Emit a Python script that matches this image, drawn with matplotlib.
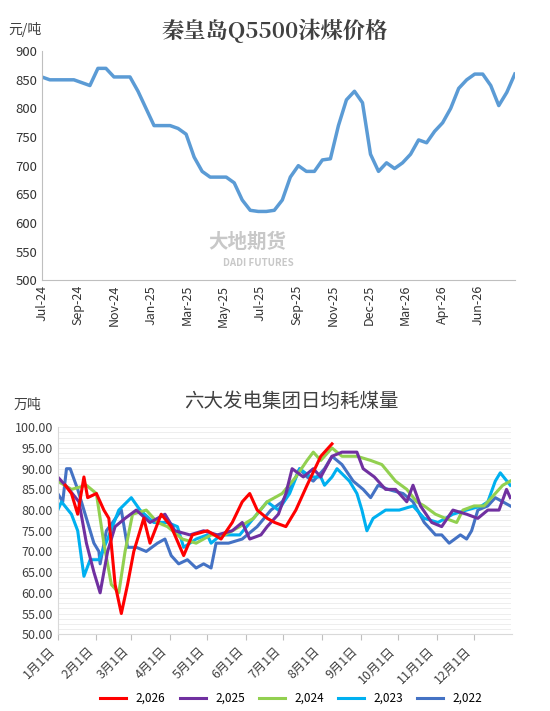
import matplotlib
matplotlib.use("Agg")
import matplotlib.pyplot as plt
import numpy as np

plt.rcParams['font.family'] = ['Noto Sans CJK SC', 'DejaVu Sans']

# ---- top chart data ----
price = [855,850,850,850,850,845,840,870,870,855,855,855,830,800,770,770,770,765,755,715,
         690,680,680,680,670,640,622,620,620,622,640,680,700,690,690,710,712,770,815,830,
         810,720,690,705,695,705,720,745,740,760,775,800,835,850,860,860,840,805,828,860]
price_labels = ['Jul-24','Sep-24','Nov-24','Jan-25','Mar-25','May-25','Jul-25','Sep-25',
                'Nov-25','Dec-25','Mar-26','Apr-26','Jun-26']

# ---- bottom chart data (day of year, value) ----
d2026 = [6,11,16,21,24,31,37,41,46,51,56,61,69,74,83,91,101,108,120,131,140,148,154,160,168,174,183,191,200,211,220]
v2026 = [86,84,79,88,83,84,80,78,62,55,62,70,78,72,79,76,69,74,75,73,77,82,84,80,78,77,76,80,86,93,96]
d2025 = [0,9,17,23,29,34,40,46,54,63,74,86,94,106,117,128,140,148,154,163,168,177,183,188,197,205,211,220,228,240,245,254,263,271,280,285,291,300,308,317,328,337,345,354,360,363]
v2025 = [88,85,82,72,65,60,70,76,78,80,77,79,75,74,75,74,75,77,73,74,76,79,84,90,88,90,88,93,94,94,90,88,85,85,82,86,81,77,76,80,79,78,80,80,85,83]
d2024 = [0,11,23,31,37,43,49,54,60,71,80,88,100,111,123,134,146,157,168,180,191,200,205,211,220,228,240,251,260,271,280,288,294,303,311,320,325,334,342,351,357,363]
v2024 = [87,85,86,84,72,62,60,70,79,80,77,76,73,72,74,74,76,78,82,84,88,92,94,92,95,93,93,92,91,87,85,82,81,79,78,77,80,81,81,84,86,87]
d2023 = [0,3,11,16,21,26,33,40,49,59,66,77,88,96,101,111,120,123,131,146,157,168,177,186,194,203,211,214,220,224,234,240,244,248,253,263,274,285,294,305,317,328,340,345,351,355,363]
v2023 = [80,82,79,75,64,68,68,73,80,83,80,77,77,76,71,73,74,72,74,74,78,82,80,84,90,88,88,86,88,90,87,84,80,75,78,80,80,81,78,77,79,80,81,82,87,89,86]
d2022 = [0,4,7,10,16,23,29,33,34,39,44,51,56,63,71,80,86,91,97,104,111,117,123,127,137,148,160,171,180,186,191,194,200,205,214,220,228,237,245,251,257,265,277,285,294,303,308,314,323,328,332,337,345,351,357,363]
v2022 = [84,82,90,90,85,78,72,70,67,75,77,80,71,71,70,72,73,69,67,68,66,67,66,72,72,73,76,80,82,85,88,90,88,87,90,93,91,87,85,83,86,85,84,82,77,74,74,72,74,73,75,80,81,83,82,81]
month_days = [0,31,59,90,120,151,181,212,243,273,304,334]
month_labels = [f'{m}月1日' for m in range(1,13)]

fig = plt.figure(figsize=(5.5,7.11), dpi=100)

# ---- top ----
ax1 = fig.add_axes([0.076,0.606,0.86,0.322])
x = np.arange(len(price))
ax1.plot(x, price, color='#5B9BD5', lw=2.5)
ax1.set_xlim(0, len(price)-1)
ax1.set_ylim(500,900)
ax1.set_yticks(range(500,901,50))
ax1.set_xticks(np.linspace(0,(len(price)-1)*12/13,len(price_labels)))
ax1.set_xticklabels(price_labels, rotation=90, fontsize=9, color='#333333')
ax1.tick_params(axis='y', labelsize=9.5, colors='#333333', length=0)
ax1.tick_params(axis='x', length=0)
for s in ['top','right']:
    ax1.spines[s].set_visible(False)
ax1.spines['left'].set_color('#BFBFBF')
ax1.spines['bottom'].set_color('#BFBFBF')
fig.text(0.50,0.955,'秦皇岛Q5500沫煤价格', ha='center', va='center', fontsize=16,
         fontweight='bold', color='#404040', family=['Noto Serif CJK SC','Noto Sans CJK SC','DejaVu Sans'])
fig.text(0.015,0.958,'元/吨', fontsize=10, color='#404040', va='center')
fig.text(0.45,0.652,'大地期货', fontsize=14, color='#C8C8C8', ha='center', fontweight='bold')
fig.text(0.47,0.626,'DADI FUTURES', fontsize=7, color='#C8C8C8', ha='center', fontweight='bold')

# ---- bottom ----
ax2 = fig.add_axes([0.105,0.108,0.825,0.291])
series = [(d2022,v2022,'#4472C4','2,022'),(d2023,v2023,'#00B0F0','2,023'),
          (d2024,v2024,'#92D050','2,024'),(d2025,v2025,'#7030A0','2,025'),
          (d2026,v2026,'#FF0000','2,026')]
handles = {}
for d,v,c,l in series:
    h, = ax2.plot(d, v, color=c, lw=2.2, label=l)
    handles[l] = h
ax2.set_xlim(0,364)
ax2.set_ylim(50,100)
ax2.set_yticks(np.arange(50,100.1,5))
ax2.set_yticklabels([f'{t:.2f}' for t in np.arange(50,100.1,5)])
ax2.set_yticks(np.arange(50,100.1,1.25), minor=True)
ax2.grid(axis='y', which='both', color='#EBEBEB', lw=0.6)
ax2.set_axisbelow(True)
ax2.set_xticks(month_days)
ax2.set_xticklabels(month_labels, rotation=45, ha='right', fontsize=9, color='#404040')
ax2.tick_params(axis='y', labelsize=9, colors='#404040', length=0, which='both')
ax2.tick_params(axis='x', length=4, color='#BFBFBF')
for s in ['top','right']:
    ax2.spines[s].set_visible(False)
ax2.spines['left'].set_color('#D9D9D9')
ax2.spines['bottom'].set_color('#D9D9D9')
fig.text(0.53,0.435,'六大发电集团日均耗煤量', ha='center', va='center', fontsize=14, color='#404040')
fig.text(0.025,0.43,'万吨', fontsize=10, color='#404040', va='center')
order = ['2,026','2,025','2,024','2,023','2,022']
fig.legend([handles[o] for o in order], order, loc='center', bbox_to_anchor=(0.53,0.018),
           ncol=5, frameon=False, fontsize=8.5, handlelength=2.2, columnspacing=1.2)

fig.savefig('out.png', dpi=100)
